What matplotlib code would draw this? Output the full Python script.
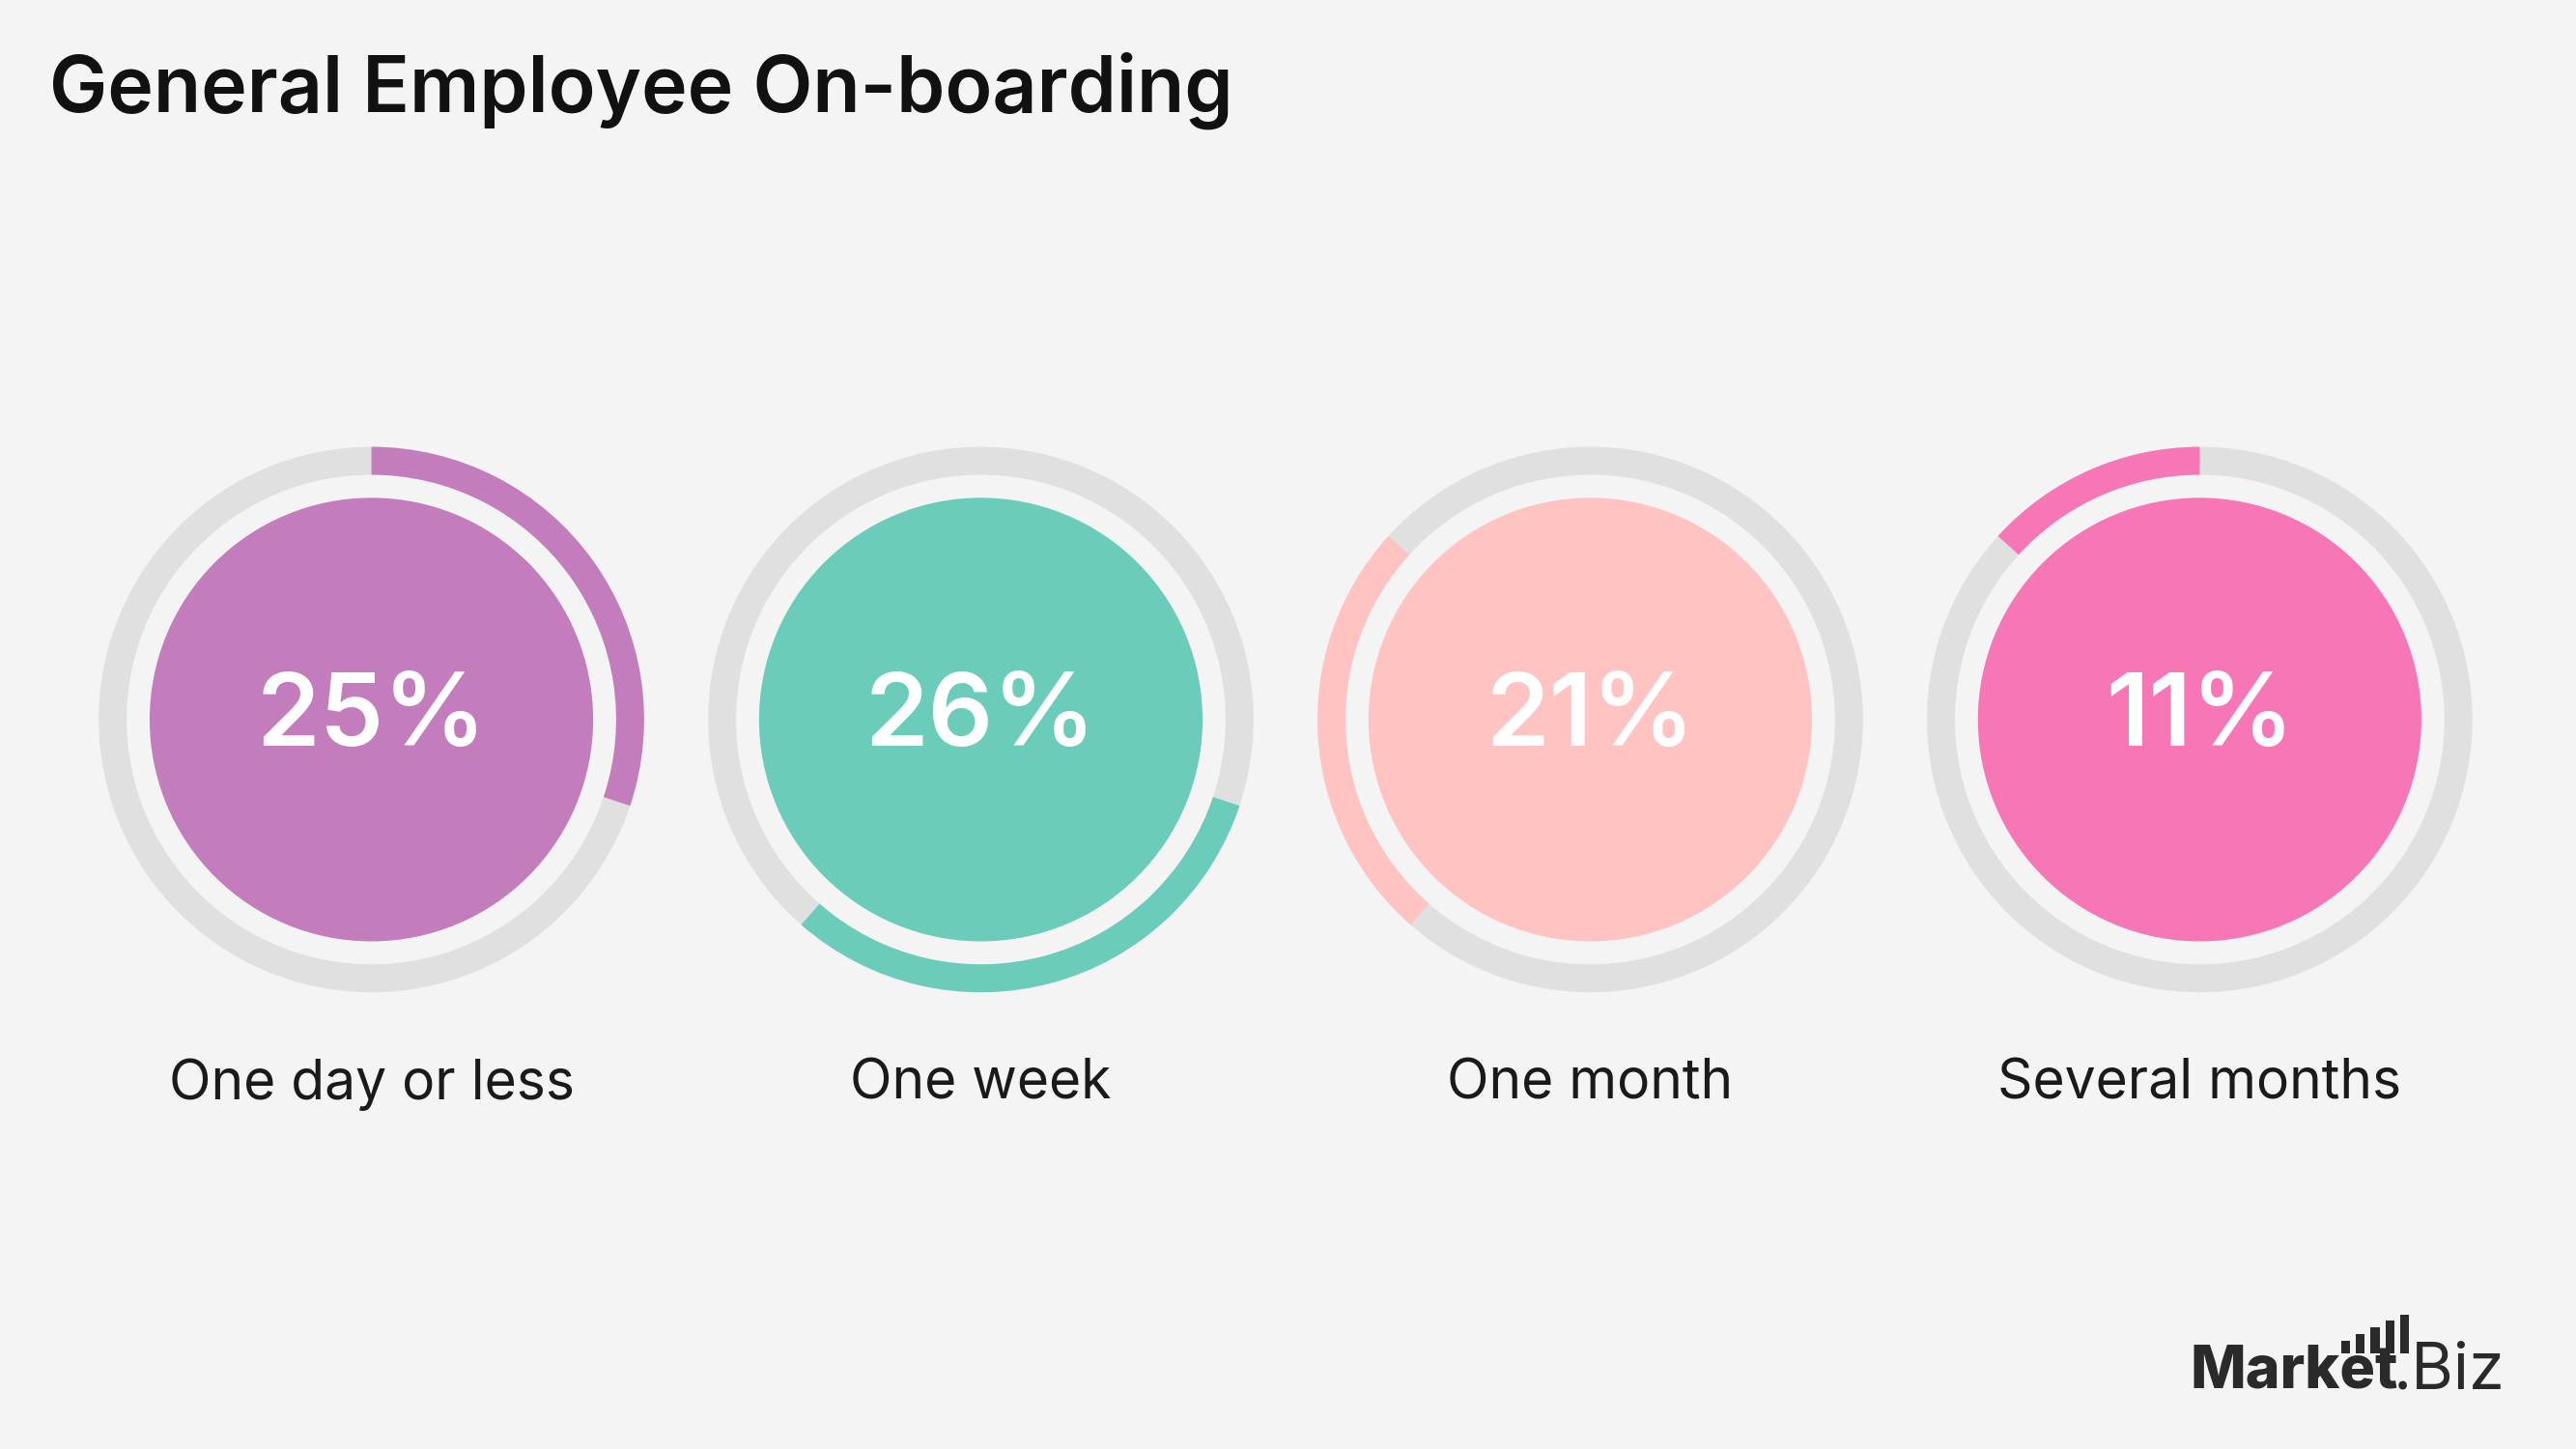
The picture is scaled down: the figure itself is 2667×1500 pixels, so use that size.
import matplotlib
matplotlib.use("Agg")
import matplotlib.pyplot as plt
from matplotlib.patches import Wedge, Circle, Rectangle

labels = ["One day or less", "One week", "One month", "Several months"]
values = [25, 26, 21, 11]
colors = ["#C47DBC", "#6BCDB9", "#FFC4C2", "#F777B6"]
centers_x = [226, 597, 968, 1339]
cy = 438

BG = "#F4F4F4"
RING = "#E0E0E0"
FONT = ["Inter", "DejaVu Sans"]

fig = plt.figure(figsize=(26.67, 15), dpi=100, facecolor=BG)
ax = fig.add_axes([0, 0, 1, 1])
ax.set_xlim(0, 1568)
ax.set_ylim(882, 0)
ax.set_aspect("equal")
ax.axis("off")
ax.set_facecolor(BG)

total = sum(values)
cum = 0
R_out, width, R_in = 166, 17, 135
for x, v, c, lab in zip(centers_x, values, colors, labels):
    ax.add_patch(Wedge((x, cy), R_out, 0, 360, width=width, facecolor=RING, edgecolor="none"))
    start = -90 + 360 * cum / total
    end = -90 + 360 * (cum + v) / total
    ax.add_patch(Wedge((x, cy), R_out, start, end, width=width, facecolor=c, edgecolor="none"))
    cum += v
    ax.add_patch(Circle((x, cy), R_in, facecolor=c, edgecolor="none"))
    ax.text(x, cy, f"{v}%", ha="center", va="center", fontsize=76, fontweight="semibold",
            color="white", family=FONT)
    ax.text(x, 660, lab, ha="center", va="center", fontsize=41, color="#1a1a1a", family=FONT)

ax.text(30, 55, "General Employee On-boarding", ha="left", va="center", fontsize=58,
        fontweight="semibold", color="#111111", family=FONT)

# logo
ax.text(1333, 835, "Market", ha="left", va="center", fontsize=44, fontweight="heavy",
        color="#2a2a2a", family=FONT)
ax.text(1457, 835, ".Biz", ha="left", va="center", fontsize=48, color="#2a2a2a", family=FONT)
for i, h in enumerate([8, 12, 16, 20, 24]):
    ax.add_patch(Rectangle((1425 + i * 9, 824 - h), 5.5, h, facecolor="#2a2a2a", edgecolor="none"))

fig.savefig("out.png", dpi=100, facecolor=BG)
